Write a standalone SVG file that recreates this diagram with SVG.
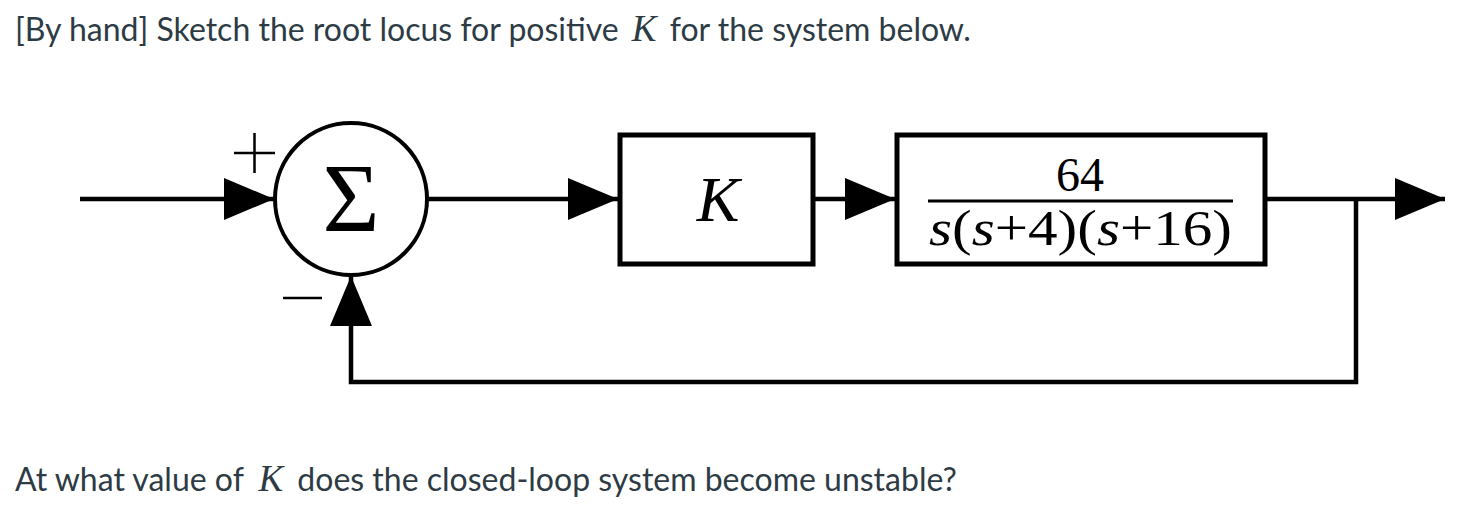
<svg xmlns="http://www.w3.org/2000/svg" width="1470" height="526" viewBox="0 0 1470 526">
<style>
.q{font-family:Lato,"Noto Sans",sans-serif;font-size:32px;fill:#2d3b45}
.m{font-family:"Liberation Serif",serif;font-style:italic;font-size:37px}
.w{fill:none;stroke:#000;stroke-width:4.5}
.box{fill:#fff;stroke:#000;stroke-width:5}
.sign{stroke:#000;stroke-width:2.5;fill:none}
.tex{font-family:"Liberation Serif",serif;fill:#000}
</style>
<defs>
<marker id="ah" viewBox="0 0 50 42" refX="50" refY="21" markerWidth="50" markerHeight="42" markerUnits="userSpaceOnUse" orient="auto">
<path d="M0,0 L50,21 L0,42 Z" fill="#000"/>
</marker>
</defs>
<rect width="1470" height="526" fill="#fff"/>
<text class="q" x="15" y="41">[By hand] Sketch the root locus for positive <tspan class="m" dx="5">K</tspan><tspan dx="5"> for the system below.</tspan></text>
<text class="q" x="15" y="491">At what value of <tspan class="m" dx="7">K</tspan><tspan dx="6"> does the closed-loop system become unstable?</tspan></text>
<g id="connectors">
<line class="w" x1="80" y1="199" x2="274" y2="199" marker-end="url(#ah)"/>
<line class="w" x1="428" y1="199" x2="618" y2="199" marker-end="url(#ah)"/>
<line class="w" x1="815" y1="199" x2="895" y2="199" marker-end="url(#ah)"/>
<line class="w" x1="1265" y1="199" x2="1445" y2="199" marker-end="url(#ah)"/>
<polyline class="w" points="1356,199 1356,382 351,382 351,276" marker-end="url(#ah)"/>
</g>
<g id="sum">
<circle cx="351" cy="199" r="76" fill="#fff" stroke="#000" stroke-width="4"/>
<text class="tex" x="351" y="231" font-size="98" text-anchor="middle">Σ</text>
<path class="sign" d="M234,153 H275 M254.5,133 V173"/>
<path class="sign" d="M283,298 H322"/>
</g>
<g id="gain">
<rect class="box" x="620" y="135" width="193" height="129"/>
<text class="tex" x="718" y="221" font-size="64" font-style="italic" text-anchor="middle">K</text>
</g>
<g id="plant">
<rect class="box" x="897" y="135" width="368" height="129"/>
<text class="tex" x="1080" y="191" font-size="48" text-anchor="middle">64</text>
<line x1="928" y1="201" x2="1233" y2="201" stroke="#000" stroke-width="3"/>
<text class="tex" x="929" y="245" font-size="50" textLength="303" lengthAdjust="spacingAndGlyphs"><tspan font-style="italic">s</tspan>(<tspan font-style="italic">s</tspan>+4)(<tspan font-style="italic">s</tspan>+16)</text>
</g>
</svg>
